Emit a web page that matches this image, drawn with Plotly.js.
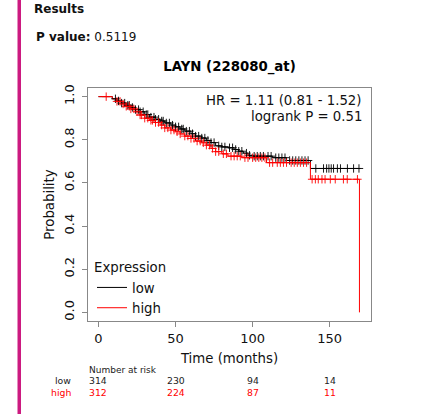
<!DOCTYPE html>
<html>
<head>
<meta charset="utf-8">
<script src="https://cdn.plot.ly/plotly-3.0.1.min.js"></script>
<style>
html,body{margin:0;padding:0;background:#fff;}
#chart{width:423px;height:414px;}
</style>
</head>
<body>
<div id="chart"></div>
<script>
// ---- data ----
const lowTimes  = [0, 9, 12, 15, 18, 21, 24, 27, 30, 33, 37, 40, 43, 47, 50, 53, 56, 60, 63, 67, 70, 73, 76, 80, 84, 88, 91, 94, 97, 100, 113, 122, 137.5, 170];
const lowSurv   = [1.0, 0.99, 0.98, 0.97, 0.96, 0.95, 0.94, 0.93, 0.917, 0.905, 0.895, 0.887, 0.878, 0.868, 0.86, 0.85, 0.84, 0.828, 0.817, 0.808, 0.797, 0.787, 0.772, 0.767, 0.763, 0.755, 0.747, 0.738, 0.728, 0.724, 0.717, 0.704, 0.667, 0.667];
const highTimes = [0, 9, 12, 15, 18, 21, 24, 27, 30, 33, 36, 40, 43, 47, 50, 53, 56, 60, 63, 67, 70, 73, 76, 80, 84, 93, 109, 137.5, 169.3];
const highSurv  = [1.0, 0.99, 0.978, 0.966, 0.955, 0.943, 0.93, 0.915, 0.90, 0.89, 0.88, 0.868, 0.855, 0.845, 0.837, 0.827, 0.817, 0.806, 0.794, 0.786, 0.775, 0.76, 0.745, 0.735, 0.724, 0.717, 0.694, 0.617, 0.0];
const lowCensor  = [11, 13, 15, 17, 19, 20, 22, 24, 26, 27, 29, 31, 32, 34, 36, 37, 39, 41, 42, 44, 46, 48, 50, 52, 54, 55, 57, 59, 61, 63, 65, 67, 69, 71, 73, 75, 78, 80, 82, 85, 87, 89, 91, 93, 96, 98, 101, 103, 105, 107, 110, 112, 115, 117, 119, 121, 124, 126, 128, 130, 132, 134, 136, 141, 146, 148, 149.5, 151, 152.5, 155, 157, 161.5, 165.5, 169];
const highCensor = [5, 12, 14, 16, 18, 20, 21, 23, 25, 27, 28, 30, 32, 34, 35, 37, 39, 41, 43, 45, 47, 49, 51, 53, 56, 58, 60, 62, 64, 66, 68, 70, 72, 74, 76, 78, 81, 83, 86, 88, 90, 92, 95, 97, 100, 102, 104, 106, 108, 111, 113, 116, 118, 120, 122, 125, 127, 129, 131, 133, 135, 138.6, 140.7, 142.6, 145, 147, 150.4, 153.6, 158.9, 161.4, 168];
const riskTimes = [0, 50, 100, 150];
const riskLow   = [314, 230, 94, 14];
const riskHigh  = [312, 224, 87, 11];
const xTicks = [0, 50, 100, 150];
const yTicks = [0, 0.2, 0.4, 0.6, 0.8, 1.0];
const yTickText = ['0.0', '0.2', '0.4', '0.6', '0.8', '1.0'];
const groupNames = ['low', 'high'];
const groupColors = ['#000000', '#ff0000'];
const hrText = 'HR = 1.11 (0.81 - 1.52)';
const pText = 'logrank P = 0.51';
const chartTitle = 'LAYN (228080_at)';
const pValue = '0.5119';

function stepAt(times, surv, t) {
  let v = surv[0];
  for (let i = 0; i < times.length; i++) { if (times[i] <= t) v = surv[i]; }
  return v;
}

const FONT = 'DejaVu Sans, sans-serif';
const traces = [];
const groups = [
  {t: lowTimes, s: lowSurv, c: lowCensor},
  {t: highTimes, s: highSurv, c: highCensor}
];
groups.forEach((g, i) => {
  traces.push({
    x: g.t, y: g.s, type: 'scatter', mode: 'lines',
    line: {shape: 'hv', color: groupColors[i], width: 1},
    name: groupNames[i], showlegend: true, hoverinfo: 'skip'
  });
});
groups.forEach((g, i) => {
  traces.push({
    x: g.c, y: g.c.map(t => stepAt(g.t, g.s, t)), type: 'scatter', mode: 'markers',
    marker: {symbol: 'cross-thin-open', size: 6, color: groupColors[i], line: {width: 0.9, color: groupColors[i]}},
    showlegend: false, hoverinfo: 'skip'
  });
});

// plot area: left 88, right 371, top 88, bottom 321
const L = 88, R = 371, T = 88, B = 321, W = 423, H = 414;
const px = x => (x - L) / (R - L);
const py = y => (B - y) / (B - T);

const annotations = [
  {text: hrText, xref: 'paper', yref: 'paper', x: px(364), y: py(100), xanchor: 'right', yanchor: 'middle', showarrow: false, font: {family: FONT, size: 13.3, color: '#111'}},
  {text: pText, xref: 'paper', yref: 'paper', x: px(364), y: py(117), xanchor: 'right', yanchor: 'middle', showarrow: false, font: {family: FONT, size: 13.3, color: '#111'}},
  {text: '<b>Results</b>', xref: 'paper', yref: 'paper', x: px(32), y: py(9), xanchor: 'left', yanchor: 'middle', showarrow: false, font: {family: FONT, size: 12, color: '#111'}},
  {text: '<b>P value:</b> ' + pValue, xref: 'paper', yref: 'paper', x: px(34), y: py(37), xanchor: 'left', yanchor: 'middle', showarrow: false, font: {family: FONT, size: 12, color: '#111'}},
  {text: 'Number at risk', xref: 'paper', yref: 'paper', x: px(87), y: py(370), xanchor: 'left', yanchor: 'middle', showarrow: false, font: {family: FONT, size: 9, color: '#222'}},
  {text: groupNames[0], xref: 'paper', yref: 'paper', x: px(73), y: py(381), xanchor: 'right', yanchor: 'middle', showarrow: false, font: {family: FONT, size: 9.3, color: '#222'}},
  {text: groupNames[1], xref: 'paper', yref: 'paper', x: px(73), y: py(392), xanchor: 'right', yanchor: 'middle', showarrow: false, font: {family: FONT, size: 9.3, color: '#ff0000'}}
];
riskTimes.forEach((t, i) => {
  annotations.push({text: String(riskLow[i]), xref: 'x', yref: 'paper', x: t, y: py(381), xanchor: 'center', yanchor: 'middle', showarrow: false, font: {family: FONT, size: 9.3, color: '#222'}});
  annotations.push({text: String(riskHigh[i]), xref: 'x', yref: 'paper', x: t, y: py(392), xanchor: 'center', yanchor: 'middle', showarrow: false, font: {family: FONT, size: 9.3, color: '#ff0000'}});
});

const layout = {
  width: W, height: H,
  margin: {l: L, r: W - R, t: T, b: H - B, pad: 0},
  paper_bgcolor: '#fff', plot_bgcolor: '#fff',
  font: {family: FONT, color: '#111'},
  title: {text: '<b>' + chartTitle + '</b>', x: 229.5 / W, xanchor: 'center', y: 1 - 66 / H, yanchor: 'middle', yref: 'container', xref: 'container', font: {family: FONT, size: 13.3, color: '#000'}},
  xaxis: {
    range: [-6.8, 176.8], tickvals: xTicks, ticktext: xTicks.map(String),
    showgrid: false, zeroline: false, showline: true, mirror: true, linecolor: '#888', linewidth: 1,
    ticks: 'outside', ticklen: 5, tickcolor: '#888', tickfont: {family: FONT, size: 13, color: '#111'},
    title: {text: 'Time (months)', font: {family: FONT, size: 13.3, color: '#111'}, standoff: 9}
  },
  yaxis: {
    range: [-0.04, 1.04], tickvals: yTicks, ticktext: yTickText, tickangle: -90,
    showgrid: false, zeroline: false, showline: true, mirror: true, linecolor: '#888', linewidth: 1,
    ticks: 'outside', ticklen: 5, tickcolor: '#888', tickfont: {family: FONT, size: 13, color: '#111'},
    ticklabelstandoff: 3,
    title: {text: 'Probability', font: {family: FONT, size: 13.3, color: '#111'}, standoff: 4}
  },
  legend: {
    x: px(92), y: py(323), xanchor: 'left', yanchor: 'bottom',
    bgcolor: 'rgba(0,0,0,0)', borderwidth: 0,
    title: {text: 'Expression', font: {family: FONT, size: 13.3, color: '#111'}},
    font: {family: FONT, size: 13.3, color: '#111'},
    itemwidth: 30, tracegroupgap: 0
  },
  annotations: annotations,
  shapes: [
    {type: 'rect', xref: 'paper', yref: 'paper', x0: px(17.5), x1: px(21), y0: py(H), y1: py(0), fillcolor: '#cc1a80', line: {width: 0}, layer: 'above'}
  ],
  showlegend: true
};

Plotly.newPlot('chart', traces, layout, {displayModeBar: false, staticPlot: true});
</script>
</body>
</html>
